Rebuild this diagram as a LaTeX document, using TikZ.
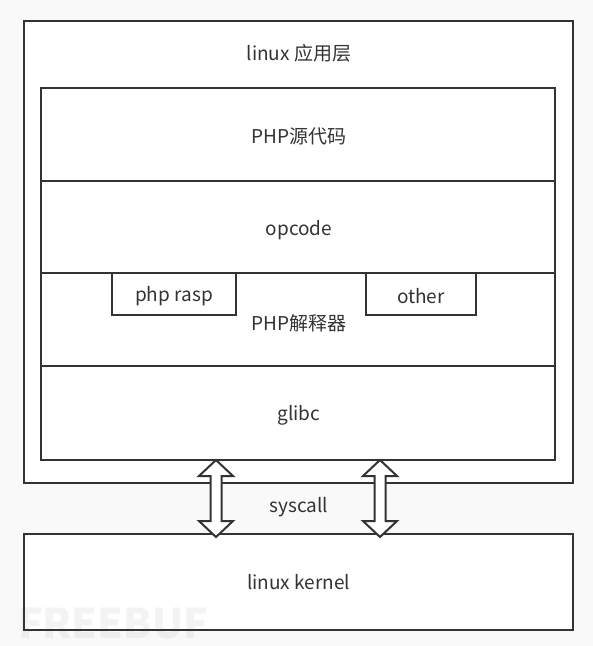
\documentclass[tikz,border=0pt]{standalone}
\usepackage{fontspec}
\setmainfont{Noto Sans CJK SC}
\usetikzlibrary{positioning, calc}
\definecolor{LineGrey}{RGB}{51, 51, 51}
\definecolor{PageGrey}{RGB}{249, 249, 249}
\tikzset{
  layer/.style={draw=LineGrey, line width=2pt, fill=white, outer sep=0pt,
    minimum width=514pt},
  bigbox/.style={draw=LineGrey, line width=2pt, fill=white, outer sep=0pt,
    minimum width=549pt},
  hookbox/.style={draw=LineGrey, line width=2pt, fill=white, outer sep=0pt,
    minimum height=42pt},
  blockarrow/.style={draw=LineGrey, line width=2pt, fill=white, line join=miter},
  caption/.style={font=\fontsize{19}{22}\selectfont, text=LineGrey}
}

\begin{document}
\begin{tikzpicture}[x=1pt, y=-1pt]
    % Page
    \fill[PageGrey] (0,0) rectangle (593,646);
    \useasboundingbox (0,0) rectangle (593,646);

    % Boxes
    \node[bigbox, minimum height=462pt] (app) at (298.5,252) {};
    \node[bigbox, minimum height=96pt] (kernel) at (298.5,582) {};
    \node[layer, minimum height=93pt] (src) at (298,134.5) {};
    \node[layer, minimum height=92pt, below=0pt of src] (opc) {};
    \node[layer, minimum height=93pt, below=0pt of opc] (interp) {};
    \node[layer, minimum height=94pt, below=0pt of interp] (glibc) {};
    \node[hookbox, minimum width=124pt, anchor=north] (rasp) at (174,273) {};
    \node[hookbox, minimum width=110pt, anchor=north] (other) at (421,273) {};

    % Labels
    \node[caption] at (299,53) {linux 应用层};
    \node[caption] at (299,136) {PHP源代码};
    \node[caption] at (299,230) {opcode};
    \node[caption] at (299,323) {PHP解释器};
    \node[caption] at (299,415) {glibc};
    \node[caption] at (rasp.center) [yshift=-2pt] {php rasp};
    \node[caption] at (other.center) [yshift=-2pt] {other};
    \node[caption] at (299,507) {syscall};
    \node[caption] at (kernel.center) {linux kernel};

    % Syscall arrows
    \coordinate (lefttop) at (glibc.south -| 216,0);
    \coordinate (rightop) at (glibc.south -| 380,0);
    \foreach \tip in {lefttop, rightop}
      \draw[blockarrow] (\tip) -- ++(17,16) -- ++(-11.5,0) -- ++(0,45) -- ++(11.5,0)
        -- ++(-17,16) -- ++(-17,-16) -- ++(11.5,0) -- ++(0,-45) -- ++(-11.5,0) -- cycle;

    % Watermark
    \node[font=\bfseries\fontsize{41}{41}\selectfont, text=LineGrey, opacity=0.06,
      anchor=south west, inner sep=0pt] (mark) at (18,639) {FREEBUF};
\end{tikzpicture}
\end{document}
